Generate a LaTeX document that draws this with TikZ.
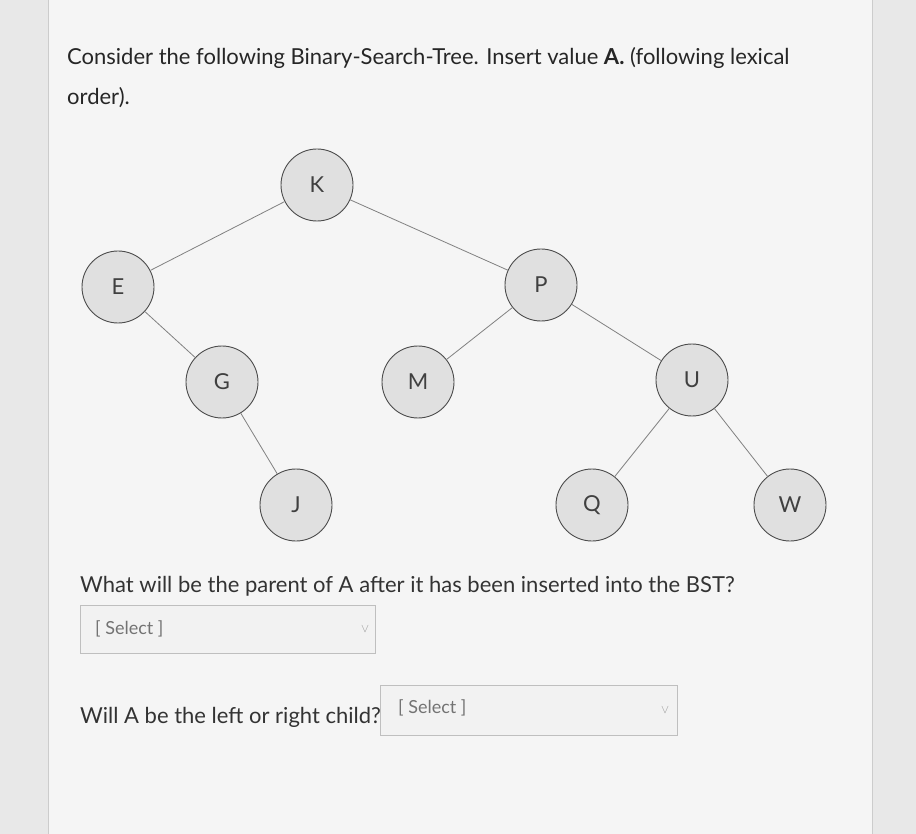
\documentclass[tikz,border=0pt]{standalone}
\usepackage{fontspec}
\setmainfont{Lato}
\begin{document}
\begin{tikzpicture}[x=1pt,y=-1pt,
  tn/.style={circle,draw=black!70,line width=0.9pt,fill=black!12,minimum size=72pt,inner sep=0pt,font=\fontsize{22}{24}\selectfont,text=black!75},
  edge/.style={draw=black!50,line width=0.8pt},
  txt/.style={anchor=west,inner sep=0pt,font=\fontsize{22}{24}\selectfont,text=black!85},
  qtxt/.style={anchor=west,inner sep=0pt,font=\fontsize{22}{24}\selectfont,text=black!80},
  selbox/.style={draw=black!25,fill=black!5,line width=0.8pt},
  seltxt/.style={anchor=west,inner sep=0pt,font=\fontsize{18}{20}\selectfont,text=black!55}]
\useasboundingbox (0,0) rectangle (916,834);
\fill[black!9] (0,0) rectangle (916,834);
\draw[black!20,fill=black!4] (48,-5) rectangle (872,840);
\node[txt] (t1) at (67,58) {Consider the following Binary-Search-Tree. Insert value \textbf{A.} (following lexical};
\node[txt] (t2) at (67,98) {order).};
\node[tn] (K) at (317,185) {K};
\node[tn] (E) at (118,287) {E};
\node[tn] (P) at (541,285) {P};
\node[tn] (G) at (222,382) {G};
\node[tn] (M) at (418,382) {M};
\node[tn] (U) at (692,380) {U};
\node[tn] (J) at (296,505) {J};
\node[tn] (Q) at (592,505) {Q};
\node[tn] (W) at (790,505) {W};
\draw[edge] (K) -- (E);
\draw[edge] (K) -- (P);
\draw[edge] (E) -- (G);
\draw[edge] (G) -- (J);
\draw[edge] (P) -- (M);
\draw[edge] (P) -- (U);
\draw[edge] (U) -- (Q);
\draw[edge] (U) -- (W);
\node[qtxt] (q1) at (80,586) {What will be the parent of A after it has been inserted into the BST?};
\draw[selbox] (80,605) rectangle (375,653);
\node[seltxt] (s1) at (95,629) {[ Select ]};
\node[font=\large,text=black!40] (c1) at (365,629) {$\vee$};
\node[qtxt] (q2) at (80,717) {Will A be the left or right child?};
\draw[selbox] (380,685) rectangle (677,735);
\node[seltxt] (s2) at (398,708) {[ Select ]};
\node[font=\large,text=black!40] (c2) at (665,710) {$\vee$};
\end{tikzpicture}
\end{document}
